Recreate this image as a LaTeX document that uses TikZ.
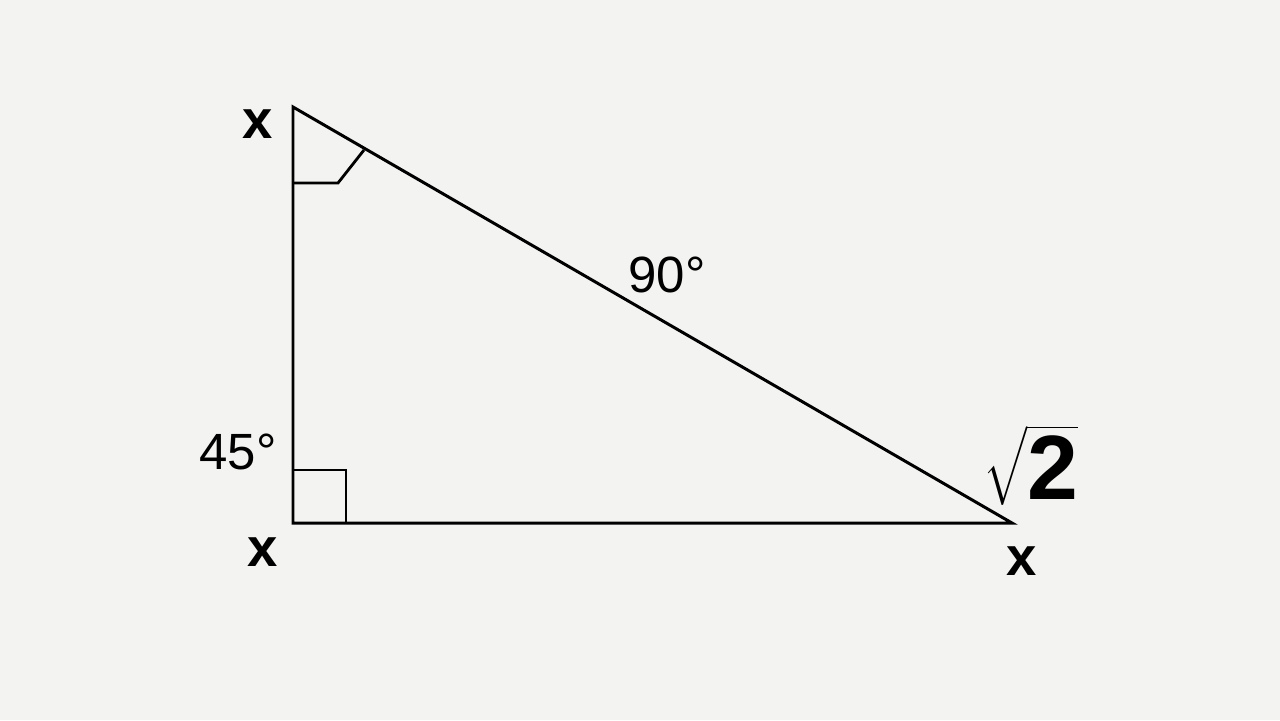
\documentclass[tikz,border=0pt]{standalone}
\usepackage{amsmath}
\usepackage{exscale}
\usepackage{fontspec}
\setmainfont{Liberation Sans}
\definecolor{bggray}{HTML}{F3F3F1}
\tikzset{
  side/.style={draw=black, line width=1.7pt, line join=miter},
  anglemark/.style={draw=black, line width=1.6pt, line join=miter},
  vlabel/.style={font=\fontsize{31}{35}\selectfont\bfseries, inner sep=0pt},
  alabel/.style={font=\fontsize{29}{33}\selectfont, inner sep=0pt}
}
\begin{document}
\begin{tikzpicture}[x=0.02cm, y=-0.02cm]
        \useasboundingbox[fill=bggray] (0,0) rectangle (1280,720);
        \pgfmathsetmacro{\sq}{53} %直角記號的邊長
        %%三角形的三個頂點
        \coordinate (Vtop) at (293,107);
        \coordinate (Vleft) at (293,523);
        \coordinate (Vright) at (1012,523);
        \draw [side] (Vtop) -- (Vleft) -- (Vright) -- cycle;

        %%角的記號
        \draw [anglemark] (293,523-\sq) -| (293+\sq,523);
        \draw [anglemark] (293,183) -- (338,183) -- (364,150);

        \foreach \n/\px/\py/\t in
        {xTop/258/124/x,
            xLeft/263/552/x,
            xRight/1022/561/x
        }
        {
            \node[vlabel] (\n) at (\px,\py) {\t};
        };
        \node[alabel] (angleLeft) at (238,452) {45°};
        \node[alabel] (angleMid) at (667,275) {90°};
        \node[font=\fontsize{52}{56}\selectfont, inner sep=0pt] (rootTwo) at (1031,465) {$\boldsymbol{\sqrt{\textbf{2}}}$};
\end{tikzpicture}
\end{document}
